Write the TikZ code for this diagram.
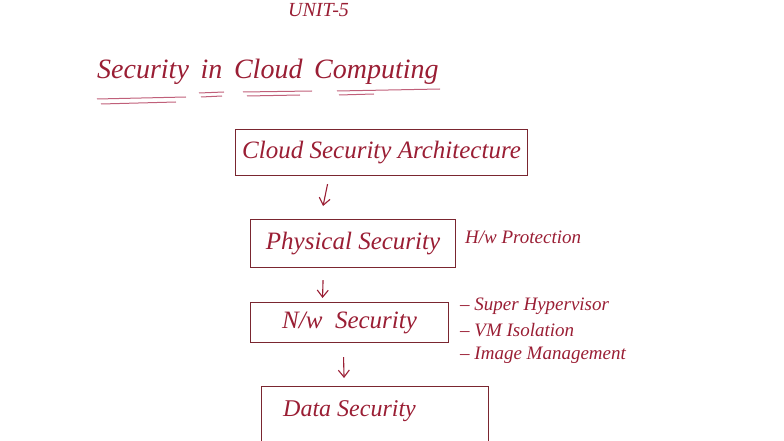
\documentclass[tikz,border=0pt]{standalone}
\usepackage{fontspec}
\setmainfont{Liberation Serif}
\usetikzlibrary{arrows.meta}
\definecolor{ink}{HTML}{9A1E34}
\definecolor{boxink}{HTML}{7A2630}
\definecolor{ulink}{HTML}{C0607A}
\tikzset{
  hand/.style={text=ink, font=\itshape, inner sep=0pt, anchor=west},
  stepbox/.style={draw=boxink, line width=1.1pt, text=ink, font=\itshape\fontsize{25}{28}\selectfont, inner sep=0pt, anchor=north west},
  note/.style={hand, font=\fontsize{19}{21}\selectfont\itshape},
  arr/.style={draw=ink, line width=1.1pt, -{Straight Barb[length=7pt,width=11pt]}},
  ul/.style={draw=ulink, line width=1pt}
}
\begin{document}
\begin{tikzpicture}[x=1pt,y=-1pt]
\useasboundingbox (0,0) rectangle (784,441);
\clip (0,0) rectangle (784,441);
% heading
\node[hand, font=\fontsize{20}{22}\selectfont\itshape] (unit) at (288,10) {UNIT-5};
\node[hand, font=\fontsize{28}{32}\selectfont\itshape] (title) at (97,72) {Security \,in \,Cloud \,Computing};
\draw[ul] (97,99) -- (186,97); \draw[ul] (101,104) -- (176,102);
\draw[ul] (199,93) -- (224,92); \draw[ul] (201,97) -- (222,96);
\draw[ul] (243,92) -- (312,91); \draw[ul] (247,96) -- (300,95);
\draw[ul] (337,91) -- (440,89); \draw[ul] (339,95) -- (374,94);
% boxes
\node[stepbox, minimum width=292pt, minimum height=46pt] (b1) at (235,129) {Cloud Security Architecture};
\node[stepbox, minimum width=205pt, minimum height=48pt] (b2) at (250,219) {Physical Security};
\node[stepbox, minimum width=198pt, minimum height=40pt] (b3) at (250,302) {N/w\ \ Security};
\node[stepbox, minimum width=227pt, minimum height=70pt] (b4) at (261,386) {};
\node[hand, font=\fontsize{24}{27}\selectfont\itshape] (b4t) at (283,411) {Data Security};
% side notes
\node[note] (n1) at (465,237) {H/w Protection};
\node[note] (n2) at (460,306) {– Super Hypervisor};
\node[note] (n3) at (460,330) {– VM Isolation};
\node[note] (n4) at (460,355) {– Image Management};
% arrows
\draw[arr] ([xshift=-54pt,yshift=-8pt]b1.south) -- ([xshift=-30pt,yshift=13pt]b2.north);
\draw[arr] ([xshift=-30pt,yshift=-12pt]b2.south) -- ([xshift=-27pt,yshift=4pt]b3.north);
\draw[arr] ([xshift=-6pt,yshift=-14pt]b3.south) -- ([xshift=-31pt,yshift=8pt]b4.north);
\end{tikzpicture}
\end{document}
